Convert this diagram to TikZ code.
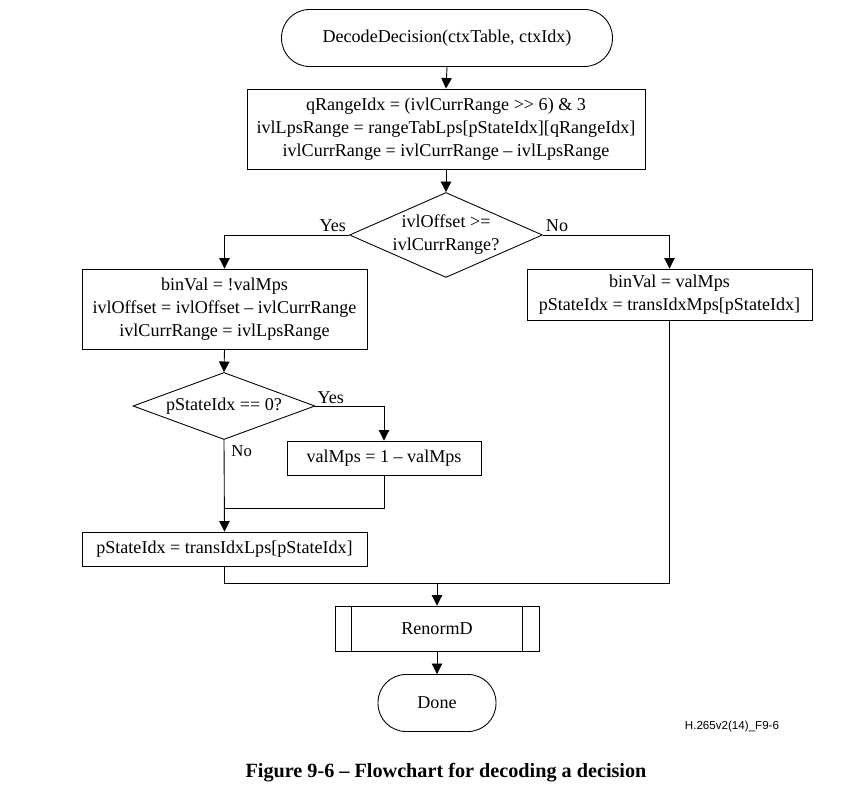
\documentclass[tikz,border=0pt]{standalone}
\usepackage{fontspec}
\setmainfont{Liberation Serif}
\newfontfamily\idfont{Liberation Sans}
\usetikzlibrary{shapes.geometric,arrows.meta,positioning,calc}

\begin{document}
\begin{tikzpicture}[x=0.02cm, y=-0.02cm, line width=0.5pt,
                    font=\fontsize{10.3}{13}\selectfont,
                    term block/.style={rectangle, draw, rounded corners=0.56cm, minimum height=1.14cm, align=center},
                    proc block/.style={rectangle, draw, align=center, inner sep=0pt},
                    dec block/.style={diamond, draw, inner sep=0pt},
                    flow arrow/.style={-{Triangle[length=6pt,width=6pt]}}]

    \useasboundingbox (0,0) rectangle (860,787);

    \node [term block, minimum width=6.62cm] (start) at (447,38) {DecodeDecision(ctxTable, ctxIdx)};
    \node [proc block, minimum width=7.96cm, minimum height=1.6cm] (range) at (446,129) {qRangeIdx = (ivlCurrRange >{}> 6) \& 3\\ivlLpsRange = rangeTabLps[pStateIdx][qRangeIdx]\\ivlCurrRange = ivlCurrRange -- ivlLpsRange};
    \node [dec block, minimum width=3.86cm, minimum height=1.7cm, label={[align=center]center:{ivlOffset >=\\ivlCurrRange?}}] (offset) at (446,235) {};
    \node [proc block, minimum width=5.7cm, minimum height=1.6cm] (lps) at (224.5,309) {binVal = !valMps\\ivlOffset = ivlOffset -- ivlCurrRange\\ivlCurrRange = ivlLpsRange};
    \node [proc block, minimum width=5.7cm, minimum height=1.02cm] (mps) at (669.5,294.5) {binVal = valMps\\pStateIdx = transIdxMps[pStateIdx]};
    \node [dec block, minimum width=3.64cm, minimum height=1.34cm, label={center:pStateIdx == 0?}] (zero) at (224,406) {};
    \node [proc block, minimum width=3.88cm, minimum height=0.68cm] (swap) at (384,458) {valMps = 1 -- valMps};
    \node [proc block, minimum width=5.7cm, minimum height=0.68cm] (trans) at (224.5,549) {pStateIdx = transIdxLps[pStateIdx]};
    \node [proc block, minimum width=4.08cm, minimum height=0.9cm] (renorm) at (437,628.5) {RenormD};
    \node [term block, minimum width=2.36cm] (done) at (437,703) {Done};

    \draw ([xshift=0.34cm]renorm.north west) -- ([xshift=0.34cm]renorm.south west);
    \draw ([xshift=-0.34cm]renorm.north east) -- ([xshift=-0.34cm]renorm.south east);

    \coordinate (join) at (224,508);
    \coordinate (merge) at (437,583);

    \draw [flow arrow] (start.south) -- (range.north);
    \draw [flow arrow] (range.south) -- (offset.north);
    \draw [flow arrow] (offset.west) -| node[pos=0, above left, inner sep=1.5pt] {Yes} (lps.north);
    \draw [flow arrow] (offset.east) -| node[pos=0, above right, inner sep=1.5pt] {No} (mps.north);
    \draw [flow arrow] (lps.south) -- (zero.north);
    \draw [flow arrow] (zero.east) -| node[pos=0, above right, inner sep=1pt] {Yes} (swap.north);
    \draw [flow arrow] (zero.south) -- node[pos=0, below right, inner sep=0pt, xshift=4pt, yshift=-3pt, font=\fontsize{9.5}{11}\selectfont] {No} (trans.north);
    \draw (swap.south) |- (join);
    \draw (trans.south) |- (merge);
    \draw (mps.south) |- (merge);
    \draw [flow arrow] (merge) -- (renorm.north);
    \draw [flow arrow] (renorm.south) -- (done.north);

    \node [font=\idfont\fontsize{6.6}{8}\selectfont] (figid) at (732,726) {H.265v2(14)\_F9-6};
    \node [font=\bfseries\fontsize{11.5}{14}\selectfont] (caption) at (446,773) {Figure 9-6 -- Flowchart for decoding a decision};

\end{tikzpicture}
\end{document}
